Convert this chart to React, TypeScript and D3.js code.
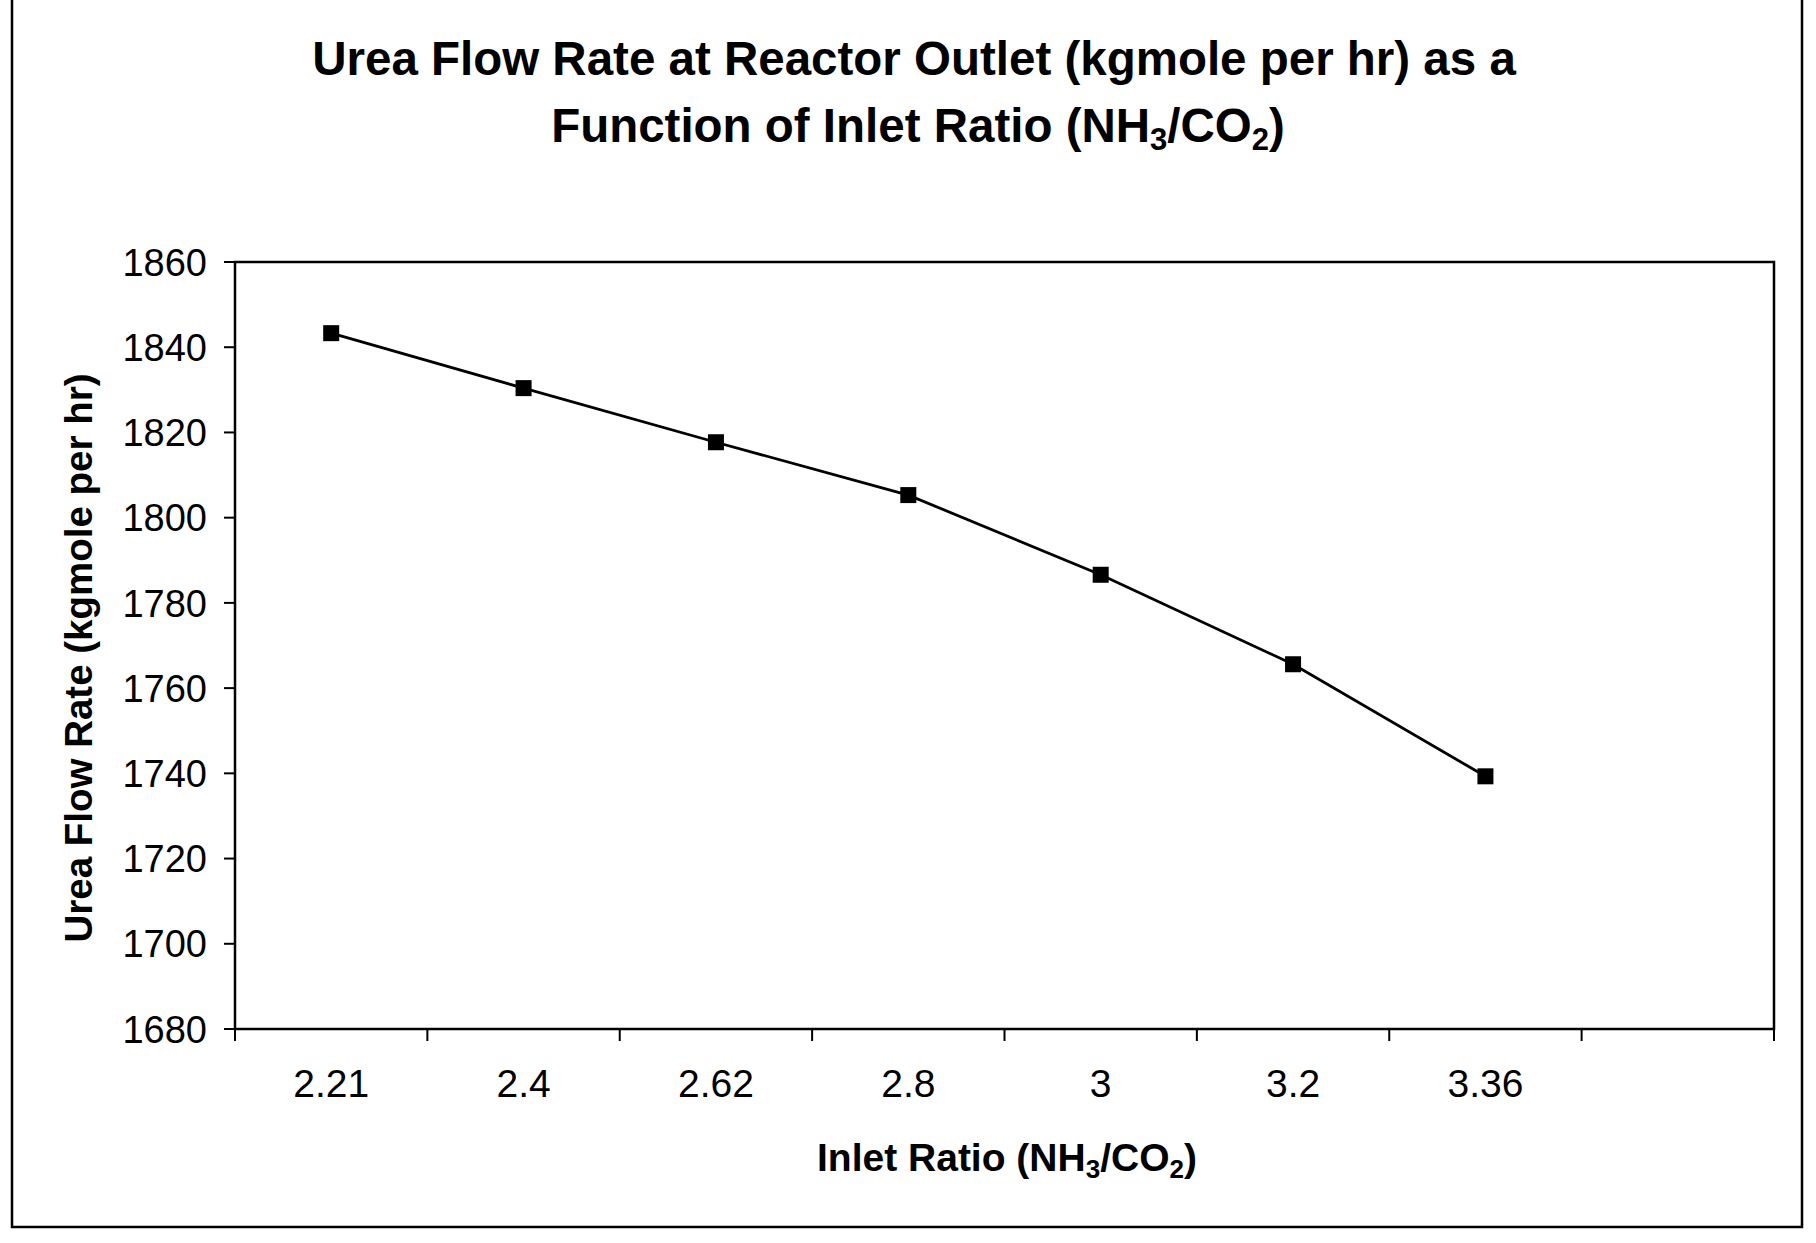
import * as d3 from 'd3';

// Inlet ratio categories (the chart keeps one empty slot at the end)
const categories = ['2.21', '2.4', '2.62', '2.8', '3', '3.2', '3.36'];
const slots = [...categories, ''];
// Urea flow rate at reactor outlet (kgmole per hr)
const ureaFlow = [1843.3, 1830.4, 1817.7, 1805.3, 1786.6, 1765.6, 1739.3];
const yTicks = [1680, 1700, 1720, 1740, 1760, 1780, 1800, 1820, 1840, 1860];

const W = 1816;
const H = 1243;
const plot = { left: 235, right: 1774, top: 262, bottom: 1029 };
const FONT = '"Liberation Sans", Arial, sans-serif';

export default function App() {
  const x = d3
    .scaleBand<string>()
    .domain(slots)
    .range([plot.left, plot.right])
    .padding(0);

  const y = d3
    .scaleLinear()
    .domain([1680, 1860])
    .range([plot.bottom, plot.top]);

  const points = categories.map((c, i) => ({
    cx: (x(c) || 0) + x.bandwidth() / 2,
    cy: y(ureaFlow[i]),
  }));

  const line = d3
    .line<{ cx: number; cy: number }>()
    .x((d) => d.cx)
    .y((d) => d.cy);

  // tick marks sit on category boundaries
  const xBounds = [...slots.map((s) => x(s) || 0), plot.right];
  const titleX = 914;

  return (
    <svg
      width={W}
      height={H}
      style={{ position: 'absolute', left: 0, top: 0, background: '#fff' }}
      fontFamily={FONT}
    >
      <rect x={0} y={0} width={W} height={H} fill="#fff" />

      {/* outer chart frame (top edge is cut off) */}
      <path
        d={`M12,0 V1227 H1802 V0`}
        fill="none"
        stroke="#000"
        strokeWidth={2.5}
      />

      {/* title */}
      <text x={titleX} y={75} textAnchor="middle" fontSize={47.5} fontWeight="bold">
        Urea Flow Rate at Reactor Outlet (kgmole per hr) as a
      </text>
      <text x={titleX + 4} y={142} textAnchor="middle" fontSize={47.5} fontWeight="bold">
        Function of Inlet Ratio (NH
        <tspan fontSize={31} dy={8}>3</tspan>
        <tspan dy={-8}>/CO</tspan>
        <tspan fontSize={31} dy={8}>2</tspan>
        <tspan dy={-8}>)</tspan>
      </text>

      {/* plot area border */}
      <rect
        x={plot.left}
        y={plot.top}
        width={plot.right - plot.left}
        height={plot.bottom - plot.top}
        fill="none"
        stroke="#000"
        strokeWidth={2.5}
      />

      {/* y axis ticks + labels */}
      {yTicks.map((t) => (
        <g key={t}>
          <line
            x1={plot.left - 11}
            x2={plot.left}
            y1={y(t)}
            y2={y(t)}
            stroke="#000"
            strokeWidth={2}
          />
          <text
            x={207}
            y={y(t)}
            dy="0.36em"
            textAnchor="end"
            fontSize={38}
          >
            {t}
          </text>
        </g>
      ))}

      {/* x axis ticks + labels */}
      {xBounds.map((b, i) => (
        <line
          key={i}
          x1={b}
          x2={b}
          y1={plot.bottom}
          y2={plot.bottom + 12}
          stroke="#000"
          strokeWidth={2}
        />
      ))}
      {categories.map((c) => (
        <text
          key={c}
          x={(x(c) || 0) + x.bandwidth() / 2}
          y={1097}
          textAnchor="middle"
          fontSize={39}
        >
          {c}
        </text>
      ))}

      {/* axis titles */}
      <text x={1007} y={1171} textAnchor="middle" fontSize={39} fontWeight="bold">
        Inlet Ratio (NH
        <tspan fontSize={26} dy={7}>3</tspan>
        <tspan dy={-7}>/CO</tspan>
        <tspan fontSize={26} dy={7}>2</tspan>
        <tspan dy={-7}>)</tspan>
      </text>
      <text
        transform={`translate(92,658) rotate(-90)`}
        textAnchor="middle"
        fontSize={38.5}
        fontWeight="bold"
      >
        Urea Flow Rate (kgmole per hr)
      </text>

      {/* series */}
      <path d={line(points) || ''} fill="none" stroke="#000" strokeWidth={2.8} />
      {points.map((p, i) => (
        <rect
          key={i}
          x={p.cx - 8}
          y={p.cy - 8}
          width={16}
          height={16}
          fill="#000"
        />
      ))}
    </svg>
  );
}
